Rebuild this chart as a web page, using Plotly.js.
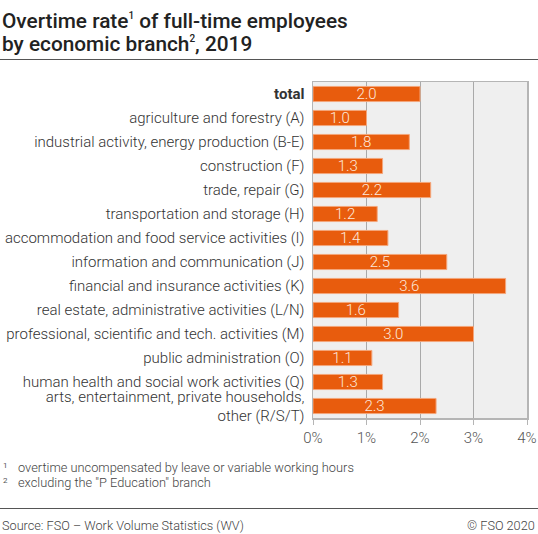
<!DOCTYPE html>
<html>
<head>
<meta charset="utf-8">
<script src="https://cdn.plot.ly/plotly-3.0.1.min.js"></script>
<style>
  body { margin: 0; background: #fff; }
  #chart { width: 538px; height: 534px; }
</style>
</head>
<body>
<div id="chart"></div>
<script>
var branches = [
  '<b>total</b>',
  'agriculture and forestry (A)',
  'industrial activity, energy production (B-E)',
  'construction (F)',
  'trade, repair (G)',
  'transportation and storage (H)',
  'accommodation and food service activities (I)',
  'information and communication (J)',
  'financial and insurance activities (K)',
  'real estate, administrative activities (L/N)',
  'professional, scientific and tech. activities (M)',
  'public administration (O)',
  'human health and social work activities (Q)',
  'arts, entertainment, private households,<br>other (R/S/T)'
];
var rates = [2.0, 1.0, 1.8, 1.3, 2.2, 1.2, 1.4, 2.5, 3.6, 1.6, 3.0, 1.1, 1.3, 2.3];
var xTicks = [0, 1, 2, 3, 4];
var xTickLabels = ['0%', '1%', '2%', '3%', '4%'];
var titleLines = [
  'Overtime rate<sup><span style="font-size:10px">1</span></sup> of full-time employees',
  'by economic branch<sup><span style="font-size:10px">2</span></sup>, 2019'
];
var footnotes = [
  'overtime uncompensated by leave or variable working hours',
  'excluding the "P Education" branch'
];

// plot area in pixels: x 313..527, y 82..418
var W = 538, H = 534, L = 313, R = 11, T = 82, B = 116;
var pw = W - L - R, ph = H - T - B;
function px(x) { return (x - L) / pw; }
function py(y) { return (H - B - y) / ph; }

var font = 'Roboto, "Liberation Sans", sans-serif';

var trace = {
  type: 'bar',
  orientation: 'h',
  y: branches,
  x: rates,
  text: rates.map(function (v) { return v.toFixed(1); }),
  textposition: 'inside',
  insidetextanchor: 'middle',
  textangle: 0,
  constraintext: 'none',
  textfont: { family: font, size: 15, color: '#fde9dc', weight: 300 },
  marker: { color: '#e85c0d', line: { color: '#f4a57a', width: 1 } },
  hoverinfo: 'none',
  cliponaxis: false
};

var annotations = [];
titleLines.forEach(function (t, i) {
  annotations.push({
    xref: 'paper', yref: 'paper', x: px(0), y: py(21 + i * 23),
    xanchor: 'left', yanchor: 'middle', showarrow: false,
    text: t, font: { family: font, size: 20.8, color: '#222', weight: 500 }
  });
});
footnotes.forEach(function (f, i) {
  annotations.push({
    xref: 'paper', yref: 'paper', x: px(1), y: py(465 + i * 15),
    xanchor: 'left', yanchor: 'middle', showarrow: false,
    text: String(i + 1), font: { family: font, size: 8, color: '#555' }
  });
  annotations.push({
    xref: 'paper', yref: 'paper', x: px(16), y: py(467 + i * 15),
    xanchor: 'left', yanchor: 'middle', showarrow: false,
    text: f, font: { family: font, size: 12.8, color: '#444', weight: 300 }
  });
});
annotations.push({
  xref: 'paper', yref: 'paper', x: px(0), y: py(525),
  xanchor: 'left', yanchor: 'middle', showarrow: false,
  text: 'Source: FSO \u2013 Work Volume Statistics (WV)',
  font: { family: font, size: 12.7, color: '#444', weight: 300 }
});
annotations.push({
  xref: 'paper', yref: 'paper', x: px(537), y: py(525),
  xanchor: 'right', yanchor: 'middle', showarrow: false,
  text: '\u00a9 FSO 2020',
  font: { family: font, size: 12.7, color: '#444', weight: 300 }
});

var layout = {
  width: W, height: H,
  margin: { l: L, r: R, t: T, b: B, pad: 0 },
  paper_bgcolor: '#fff',
  plot_bgcolor: '#efefef',
  showlegend: false,
  bargap: 0.37,
  xaxis: {
    range: [0, 4],
    tickvals: xTicks,
    ticktext: xTickLabels,
    showgrid: true, gridcolor: '#a9a9a9', gridwidth: 1,
    zeroline: false,
    showline: true, linecolor: '#b5b5b5', linewidth: 1.5, mirror: true,
    ticks: 'outside', ticklen: 5, tickcolor: '#b5b5b5',
    tickfont: { family: font, size: 15, color: '#555', weight: 300 },
    fixedrange: true
  },
  yaxis: {
    type: 'category',
    autorange: 'reversed',
    showline: true, linecolor: '#b5b5b5', linewidth: 1.5, mirror: true,
    showgrid: false,
    ticks: '', ticklabelstandoff: 4,
    tickfont: { family: font, size: 15, color: '#333', weight: 300 },
    fixedrange: true
  },
  shapes: [
    { type: 'line', xref: 'paper', yref: 'paper', x0: px(0), x1: px(538), y0: py(59.5), y1: py(59.5),
      line: { color: '#555', width: 1.2 } },
    { type: 'line', xref: 'paper', yref: 'paper', x0: px(0), x1: px(538), y0: py(508.5), y1: py(508.5),
      line: { color: '#555', width: 1.2 } }
  ],
  annotations: annotations
};

Plotly.newPlot('chart', [trace], layout, { staticPlot: true, displayModeBar: false });
</script>
</body>
</html>
